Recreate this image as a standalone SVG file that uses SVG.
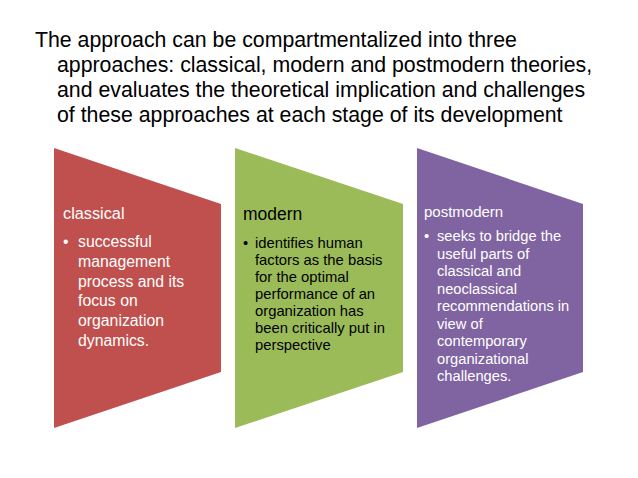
<svg xmlns="http://www.w3.org/2000/svg" width="638" height="478" viewBox="0 0 638 478">
<style>
.title{font-family:"Liberation Sans",Arial,sans-serif;font-size:21.3px;fill:#000}
.lbl{font-family:"Liberation Sans",Arial,sans-serif;fill:#fff}
.dark{fill:#000}
</style>
<rect width="638" height="478" fill="#fff"/>
<g id="title">
<text class="title" x="35" y="47">The approach can be compartmentalized into three</text>
<text class="title" x="57" y="72">approaches: classical, modern and postmodern theories,</text>
<text class="title" x="57" y="97">and evaluates the theoretical implication and challenges</text>
<text class="title" x="57" y="122">of these approaches at each stage of its development</text>
</g>
<g id="classical">
<polygon points="54,148 221,204 221,372 54,428" fill="#C0504D"/>
<text class="lbl" x="63" y="219" font-size="16.3">classical</text>
<g class="lbl" font-size="15.8">
<text x="63" y="247">•</text>
<text x="78" y="247">successful</text>
<text x="78" y="267">management</text>
<text x="78" y="287">process and its</text>
<text x="78" y="306">focus on</text>
<text x="78" y="326">organization</text>
<text x="78" y="346">dynamics.</text>
</g>
</g>
<g id="modern">
<polygon points="235,148 403,204 403,372 235,428" fill="#9BBB59"/>
<text class="lbl dark" x="243" y="220" font-size="17.5">modern</text>
<g class="lbl dark" font-size="14.8">
<text x="243" y="248">•</text>
<text x="255" y="248">identifies human</text>
<text x="255" y="265">factors as the basis</text>
<text x="255" y="282">for the optimal</text>
<text x="255" y="299">performance of an</text>
<text x="255" y="316">organization has</text>
<text x="255" y="333">been critically put in</text>
<text x="255" y="350">perspective</text>
</g>
</g>
<g id="postmodern">
<polygon points="417,148 583,204 583,372 417,428" fill="#8064A2"/>
<text class="lbl" x="424" y="217" font-size="15">postmodern</text>
<g class="lbl" font-size="14.7">
<text x="424" y="241">•</text>
<text x="437" y="241">seeks to bridge the</text>
<text x="437" y="258.5">useful parts of</text>
<text x="437" y="276">classical and</text>
<text x="437" y="293.5">neoclassical</text>
<text x="437" y="311">recommendations in</text>
<text x="437" y="328.5">view of</text>
<text x="437" y="346">contemporary</text>
<text x="437" y="363.5">organizational</text>
<text x="437" y="381">challenges.</text>
</g>
</g>
<g id="connectors"/>
</svg>
